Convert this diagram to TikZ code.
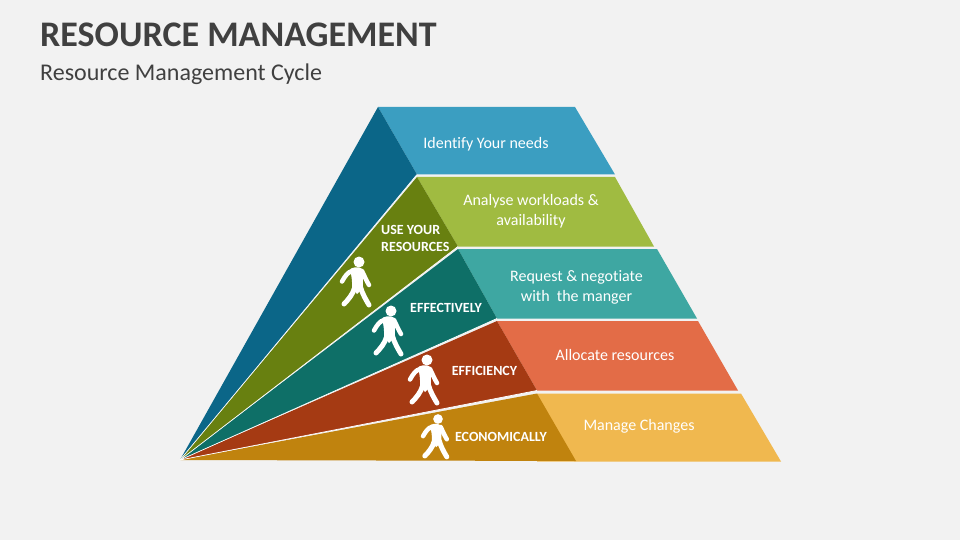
\documentclass[tikz,border=0pt]{standalone}
\usepackage{fontspec}
\setmainfont[Ligatures={TeX,CommonOff}]{Carlito}
\usetikzlibrary{positioning}
\definecolor{pagebg}{HTML}{F2F2F2}
\definecolor{titlegray}{HTML}{404040}
\definecolor{bluelight}{HTML}{3B9EC1}
\definecolor{bluedark}{HTML}{0B6688}
\definecolor{greenlight}{HTML}{A0BB41}
\definecolor{greendark}{HTML}{688010}
\definecolor{teallight}{HTML}{3EA7A2}
\definecolor{tealdark}{HTML}{0E6F67}
\definecolor{redlight}{HTML}{E36C47}
\definecolor{reddark}{HTML}{A53A13}
\definecolor{yellowlight}{HTML}{F0B84F}
\definecolor{yellowdark}{HTML}{C0830E}
\tikzset{
  steptext/.style={text=white,font=\fontsize{16}{20}\selectfont,align=center,inner sep=0pt},
  sidetext/.style={text=white,font=\fontsize{14}{17}\selectfont\bfseries,align=center,inner sep=0pt},
  gapline/.style={draw=white,line width=0.7pt},
  limb/.style={draw=white,line cap=round,line join=round,line width=#1},
  pics/walker/.style={code={
    \fill[white] (0,0) circle (5.5);
    \fill[white] (-8,6.5) .. controls (-3,4.5) and (1,5) .. (4,7.5) .. controls (4.5,13) and (3.5,20) .. (4,26)
      -- (-2,32) -- (-7,26) .. controls (-6.5,20) and (-7.5,14) .. (-8.5,10) -- cycle;
    \draw[limb=4.5pt] (-7,9) .. controls (-11,10) and (-14,14) .. (-17,19.5);
    \draw[limb=4.5pt] (3,9) .. controls (5,13) and (7,18) .. (10,23);
    \draw[limb=5pt] (-4.5,26) .. controls (-6,32) and (-11,38) .. (-15,42);
    \draw[limb=5pt] (1.5,25) .. controls (3,31) and (7,38) .. (10,43);
  }}
}
\begin{document}
\begin{tikzpicture}[x=1pt,y=-1pt]
  \useasboundingbox[fill=pagebg] (0,0) rectangle (960,540);

  \coordinate (apex) at (180,460);
  \coordinate (peak) at (378,107);
  \coordinate (blue low) at (417,174.5);
  \coordinate (green top) at (417,177);
  \coordinate (green low) at (458,246.5);
  \coordinate (teal top) at (458,249);
  \coordinate (teal low) at (497,318.5);
  \coordinate (red top) at (497,321);
  \coordinate (red low) at (537,390.5);
  \coordinate (yellow top) at (537,393.5);
  \coordinate (yellow low) at (576,461);

  % right hand steps
  \fill[bluelight] (peak) -- (575,107) -- (615,174.5) -- (blue low) -- cycle;
  \fill[greenlight] (green top) -- (615,177) -- (654,246.5) -- (green low) -- cycle;
  \fill[teallight] (teal top) -- (657,249) -- (697,318.5) -- (teal low) -- cycle;
  \fill[redlight] (red top) -- (698,321) -- (738,390.5) -- (red low) -- cycle;
  \fill[yellowlight] (yellow top) -- (741,393.5) -- (781,461.5) -- (537,461.5) -- cycle;

  % wedges
  \fill[bluedark] (apex) -- (peak) -- (blue low) -- cycle;
  \fill[greendark] (apex) -- (green top) -- (green low) -- cycle;
  \fill[tealdark] (apex) -- (teal top) -- (teal low) -- cycle;
  \fill[reddark] (apex) -- (red top) -- (red low) -- cycle;
  \fill[yellowdark] (apex) -- (yellow top) -- (yellow low) -- cycle;
  \draw[gapline] (apex) -- (blue low);
  \draw[gapline] (apex) -- (green low);
  \draw[gapline] (apex) -- (teal low);
  \draw[gapline] (apex) -- (red low);

  \node[anchor=west,inner sep=0pt,text=titlegray,font=\fontsize{36}{40}\selectfont\bfseries] (title) at (40,34.5) {RESOURCE MANAGEMENT};
  \node[anchor=west,inner sep=0pt,text=titlegray,font=\fontsize{24}{28}\selectfont] (subtitle) at (40,74.5) {Resource Management Cycle};

  \node[steptext] (identify) at (486,144) {Identify Your needs};
  \node[steptext] (analyse) at (531,211.5) {Analyse workloads \&\\availability};
  \node[steptext] (request) at (576.5,287) {Request \& negotiate\\with\ \ the manger};
  \node[steptext] (allocate) at (615,355.5) {Allocate resources};
  \node[steptext] (manage) at (639,426) {Manage Changes};

  \node[sidetext,align=left,anchor=west] (use) at (381,238) {USE YOUR\\RESOURCES};
  \node[sidetext] (effectively) at (446,307.5) {EFFECTIVELY};
  \node[sidetext] (efficiency) at (484.5,370.5) {EFFICIENCY};
  \node[sidetext] (economically) at (501,436.5) {ECONOMICALLY};

  \pic at (359,262) {walker};
  \pic at (391,311) {walker};
  \pic at (427,360) {walker};
  \pic[xscale=0.88,yscale=0.88] at (438,419) {walker};
\end{tikzpicture}
\end{document}
